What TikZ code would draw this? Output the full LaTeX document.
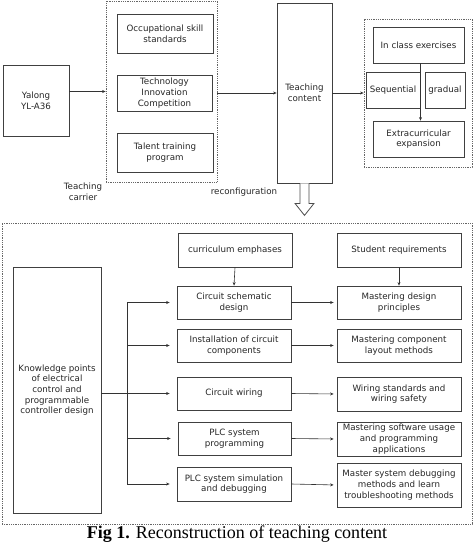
\documentclass[tikz,border=0pt]{standalone}
\usepackage{fontspec}
\setmainfont{DejaVu Sans}
\newfontfamily\capfont{Liberation Serif}
\usetikzlibrary{arrows.meta,calc}
\begin{document}
\begin{tikzpicture}[x=1pt,y=-1pt,
  box/.style={draw=black!75, line width=0.8pt, align=center, inner sep=1pt, font=\fontsize{8.7}{10.6}\selectfont, text=black!85},
  dotbox/.style={draw=black!60, densely dotted, line width=0.8pt, inner sep=0pt},
  arr/.style={draw=black!80, line width=0.6pt, -{Stealth[length=3.5pt,width=3pt]}},
  lbl/.style={align=center, font=\fontsize{8.7}{10.6}\selectfont, text=black!85}
]
\useasboundingbox (0,0) rectangle (474,546);
% dotted groups
\node[dotbox, minimum width=111pt, minimum height=181pt] (d1) at (161.5,91.5) {};
\node[dotbox, minimum width=108pt, minimum height=148pt] (d2) at (418,93) {};
\node[dotbox, minimum width=470pt, minimum height=301pt] (d3) at (237,373.5) {};
% top part
\node[box, minimum width=66pt, minimum height=71pt] (yal) at (36,100.5) {Yalong\\YL-A36};
\node[box, minimum width=96pt, minimum height=39pt] (occ) at (165,33.5) {Occupational skill\\standards};
\node[box, minimum width=95pt, minimum height=36pt] (tech) at (164.5,93) {Technology\\Innovation\\Competition};
\node[box, minimum width=96pt, minimum height=39pt] (tal) at (165,152.5) {Talent training\\program};
\node[box, minimum width=55pt, minimum height=180pt] (tc) at (304.5,93) {Teaching\\content};
\node[box, minimum width=91pt, minimum height=36pt] (icx) at (418.5,45) {In class exercises};
\node[box, minimum width=54pt, minimum height=36pt, line width=1pt] (seq) at (393,90) {Sequential};
\node[box, minimum width=40pt, minimum height=36pt, line width=1pt] (grad) at (445,90) {gradual};
\node[box, minimum width=91pt, minimum height=36pt] (ext) at (418.5,139) {Extracurricular\\expansion};
\node[lbl] (carrier) at (83,192) {Teaching\\carrier};
\node[lbl] (reconf) at (244,192) {reconfiguration};
\draw[arr] (yal.east |- d1.west) -- (d1.west);
\draw[arr] (d1.east |- tc.west) -- (tc.west);
\draw[arr] (tc.east |- d2.west) -- (d2.west);
\draw[arr] (seq.east |- icx.south) -- (seq.east |- ext.north);
% hollow arrow
\draw[black!70, line width=0.8pt, fill=white, line join=miter]
  ($(tc.south)+(-4.5,0)$) -- ($(tc.south)+(-4.5,20)$) -- ($(tc.south)+(-9.5,20)$)
  -- ($(tc.south)+(0,32)$) -- ($(tc.south)+(9.5,20)$) -- ($(tc.south)+(4.5,20)$)
  -- ($(tc.south)+(4.5,0)$);
% bottom part
\node[box, minimum width=88pt, minimum height=246pt] (kp) at (57,390) {Knowledge points\\of electrical\\control and\\programmable\\controller design};
\node[box, minimum width=114pt, minimum height=34pt] (cur) at (235,250) {curriculum emphases};
\node[box, minimum width=124pt, minimum height=34pt] (stu) at (399,250) {Student requirements};
\node[box, minimum width=114pt, minimum height=33pt] (cs) at (234,302.5) {Circuit schematic\\design};
\node[box, minimum width=114pt, minimum height=33pt] (inst) at (234,345.5) {Installation of circuit\\components};
\node[box, minimum width=114pt, minimum height=33pt] (cw) at (234,393.5) {Circuit wiring};
\node[box, minimum width=113pt, minimum height=33pt] (plcp) at (234.5,438.5) {PLC system\\programming};
\node[box, minimum width=114pt, minimum height=34pt] (plcs) at (234,484) {PLC system simulation\\and debugging};
\node[box, minimum width=124pt, minimum height=33pt] (mdp) at (399,302.5) {Mastering design\\principles};
\node[box, minimum width=124pt, minimum height=33pt] (mcl) at (399,345.5) {Mastering component\\layout methods};
\node[box, minimum width=124pt, minimum height=34pt] (wss) at (399,394) {Wiring standards and\\wiring safety};
\node[box, minimum width=124pt, minimum height=34pt] (msu) at (399,439) {Mastering software usage\\and programming\\applications};
\node[box, minimum width=124pt, minimum height=44pt] (msd) at (399,485) {Master system debugging\\methods and learn\\troubleshooting methods};
\coordinate (br) at (127,0);
\draw[arr] (cur.south) -- (cs.north);
\draw[arr] (stu.south) -- (mdp.north);
\draw[draw=black!80, line width=0.6pt] (br |- cs.west) -- (br |- plcs.west);
\draw[arr, shorten >=7pt] (kp.east |- cw.west) -- (cw.west);
\foreach \t in {cs,inst,plcp,plcs}{
  \draw[arr, shorten >=7pt] (br |- \t.west) -- (\t.west);
}
\draw[arr, shorten >=3pt] (cs.east) -- (mdp.west);
\draw[arr, shorten >=3pt] (inst.east) -- (mcl.west);
\draw[arr, shorten >=3pt] (cw.east) -- (wss.west);
\draw[arr, shorten >=3pt] (plcp.east) -- (msu.west);
\draw[arr, shorten >=3pt] (plcs.east) -- (msd.west);
% caption
\node[font=\capfont\fontsize{18}{20}\selectfont] (cap) at (237,534.5) {\textbf{Fig 1.} Reconstruction of teaching content};
\end{tikzpicture}
\end{document}
